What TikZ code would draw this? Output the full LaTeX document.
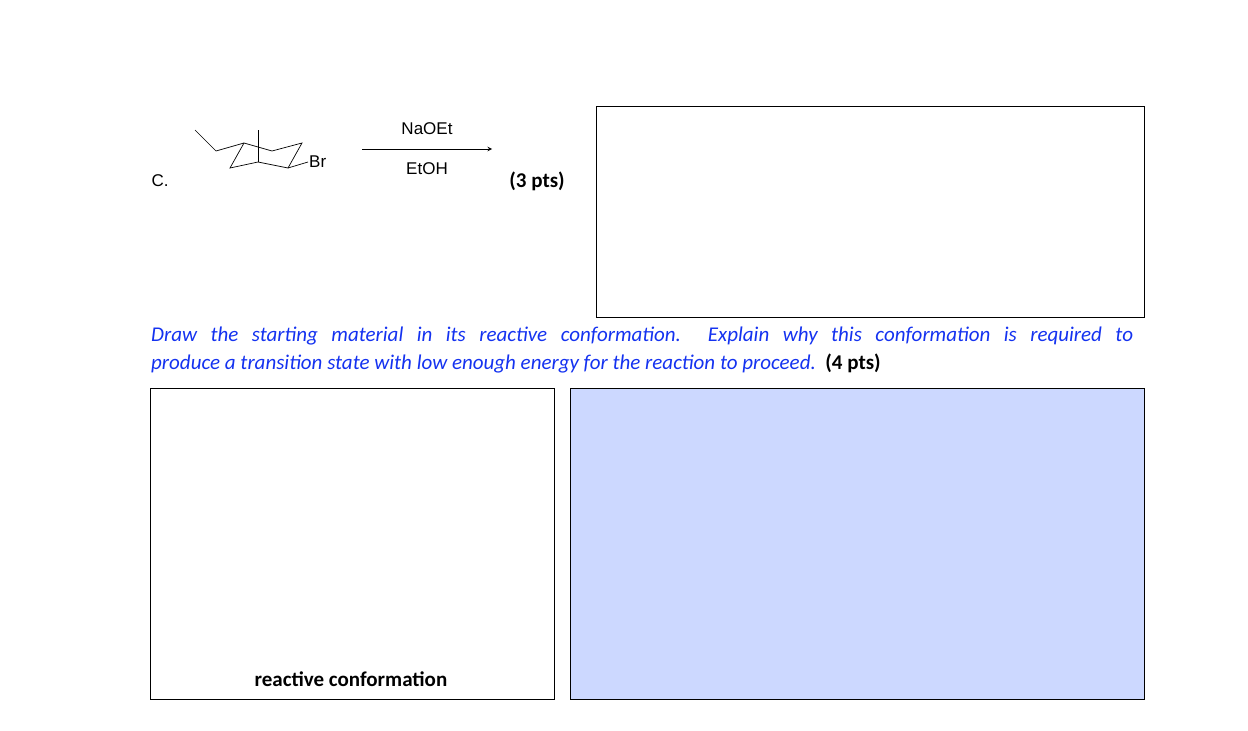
\documentclass[tikz,border=0pt]{standalone}
\usepackage{fontspec}
\setmainfont{Carlito}
\newfontfamily\arial{Liberation Sans}
\definecolor{qblue}{RGB}{20,50,240}
\definecolor{fillb}{RGB}{204,216,255}
\begin{document}
\begin{tikzpicture}[x=1pt,y=-1pt,
  box/.style={draw,line width=1pt},
  bond/.style={line width=0.7pt},
  chem/.style={font=\arial\fontsize{17}{20}\selectfont},
  big/.style={font=\fontsize{21}{28}\selectfont}]
\useasboundingbox (0,0) rectangle (1248,731);
\node[chem] (c) at (160,181) {C.};
\coordinate (A) at (244,143); \coordinate (B) at (272,151); \coordinate (C) at (302,143);
\coordinate (D) at (288,168); \coordinate (E) at (258,162); \coordinate (F) at (230,168);
\coordinate (m) at (258,130); \coordinate (e1) at (216,151); \coordinate (e2) at (195,130);
\coordinate (brb) at (308,162);
\draw[bond] (A)--(B)--(C)--(D)--(E)--(F)--cycle;
\draw[bond] (E)--(m); \draw[bond] (A)--(e1)--(e2); \draw[bond] (D)--(brb);
\node[chem,anchor=west,inner sep=1pt] (br) at (brb) {Br};
\coordinate (a1) at (362,149); \coordinate (a2) at (492,149);
\draw[line width=1pt,-stealth] (a1)--(a2);
\node[chem] (na) at (427,129) {NaOEt};
\node[chem] (et) at (427,169) {EtOH};
\node[big] (p3) at (537,181) {\bfseries (3 pts)};
\node[box,minimum width=548,minimum height=211,anchor=north west] (b1) at (596,106) {};
\node[big,anchor=north west,align=justify,text=qblue,inner sep=0,text width=982] (q) at (151,327)
 {\itshape Draw the starting material in its reactive conformation.\ \ Explain why this conformation is required to\linebreak produce a transition state with low enough energy for the reaction to proceed.\ \ \textcolor{black}{\upshape\bfseries(4 pts)}\hfill\null};
\node[box,minimum width=404,minimum height=311,anchor=north west] (b2) at (150,388) {};
\node[big] (rc) at (351,679) {\bfseries reactive conformation};
\node[box,fill=fillb,minimum width=574,minimum height=311,anchor=north west] (b3) at (570,388) {};
\end{tikzpicture}
\end{document}
